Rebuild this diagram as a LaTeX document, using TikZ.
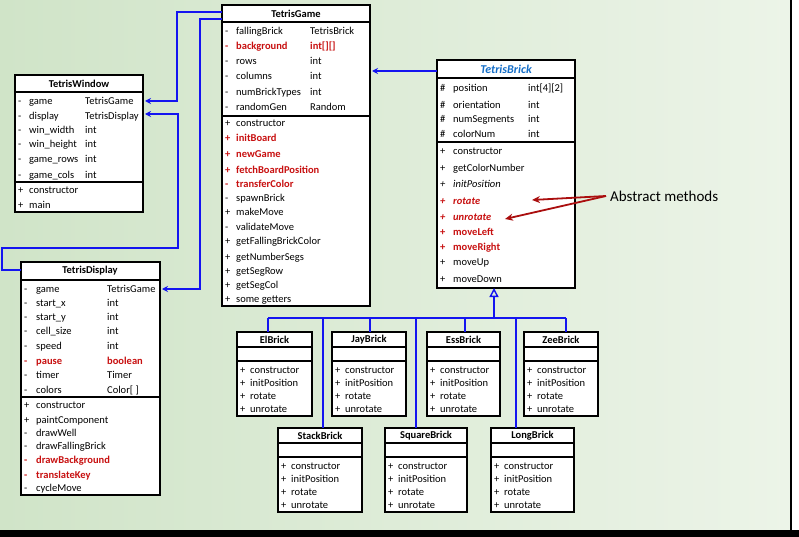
\documentclass[tikz,border=0pt]{standalone}
\usepackage{fontspec}
\setmainfont{Carlito}
\usetikzlibrary{arrows.meta}
\definecolor{bgg}{RGB}{208,228,200}
\definecolor{bgr}{RGB}{236,244,232}
\definecolor{umlred}{RGB}{200,16,16}
\definecolor{umlblue}{RGB}{20,110,200}
\definecolor{conn}{RGB}{20,20,240}
\tikzset{
  box/.style={draw=black,line width=2.8pt,fill=white},
  sep/.style={draw=black,line width=2pt},
  ttl/.style={font=\fontsize{10.5}{11}\selectfont\bfseries,inner sep=0pt},
  txt/.style={font=\fontsize{10.5}{11}\selectfont,anchor=base west,inner sep=0pt},
  red/.style={text=umlred,font=\fontsize{10.5}{11}\selectfont\bfseries},
  ab/.style={font=\fontsize{10.5}{11}\selectfont\itshape},
  abr/.style={text=umlred,font=\fontsize{10.5}{11}\selectfont\bfseries\itshape},
  link/.style={draw=conn,line width=1.6pt,-{Stealth[length=6pt,width=6pt]}},
  bus/.style={draw=conn,line width=1.6pt},
  inh/.style={draw=conn,line width=1.6pt,-{Triangle[open,length=9pt,width=9pt,line width=1.4pt]}},
  note/.style={draw=umlred!85!black,line width=1.8pt,-{Stealth[length=8pt,width=7pt]}}
}
% \mrow{name}{y}{sx}{nx}{tx}{sign}{text}{type}{style}
\newcommand{\mrow}[9]{%
  \node[txt,#9] (#1s) at (#3,#2+3.5) {#6};
  \node[txt,#9] (#1n) at (#4,#2+3.5) {#7};
  \node[txt,#9] (#1t) at (#5,#2+3.5) {#8};}
\newcommand{\smallbrick}[4]{% name, x1, x2, ytop
  \pgfmathsetmacro{\ya}{#4}\pgfmathsetmacro{\yb}{#4+15}\pgfmathsetmacro{\yc}{#4+29}\pgfmathsetmacro{\yd}{#4+84}
  \pgfmathsetmacro{\xm}{(#2+#3)/2}\pgfmathsetmacro{\xs}{#2+3}\pgfmathsetmacro{\xn}{#2+13}
  \path[box] (#2,\ya) rectangle (#3,\yd);
  \draw[sep] (#2,\yb) -- (#3,\yb);
  \draw[sep] (#2,\yc) -- (#3,\yc);
  \node[ttl] (#1) at (\xm,{#4+7.5}) {#1};
  \node[txt] (#1a) at (\xs,{#4+41.5}) {+};\node[txt] (#1an) at (\xn,{#4+41.5}) {constructor};
  \node[txt] (#1b) at (\xs,{#4+54.5}) {+};\node[txt] (#1bn) at (\xn,{#4+54.5}) {initPosition};
  \node[txt] (#1c) at (\xs,{#4+67.5}) {+};\node[txt] (#1cn) at (\xn,{#4+67.5}) {rotate};
  \node[txt] (#1d) at (\xs,{#4+80.5}) {+};\node[txt] (#1dn) at (\xn,{#4+80.5}) {unrotate};
  \coordinate (#1top) at (\xm,\ya);}
\begin{document}
\begin{tikzpicture}[x=1pt,y=-1pt]
\useasboundingbox (0,0) rectangle (799,537);
\fill[white] (0,0) rectangle (799,537);
\shade[left color=bgg,right color=bgr] (0,0) rectangle (791,530);
\fill[black] (0,530) rectangle (799,537);
\draw[black,line width=1.5pt] (791,0) -- (791,530);

% ---------- TetrisGame
\path[box] (222,5) rectangle (370,306);
\draw[sep] (222,22) -- (370,22);
\draw[sep] (222,116) -- (370,116);
\node[ttl] (TG) at (296,13.5) {TetrisGame};
\mrow{g1}{31}{225}{236}{310}{-}{fallingBrick}{TetrisBrick}{}
\mrow{g2}{46}{225}{236}{310}{-}{background}{int[][]}{red}
\mrow{g3}{61}{225}{236}{310}{-}{rows}{int}{}
\mrow{g4}{76}{225}{236}{310}{-}{columns}{int}{}
\mrow{g5}{92}{225}{236}{310}{-}{numBrickTypes}{int}{}
\mrow{g6}{107}{225}{236}{310}{-}{randomGen}{Random}{}
\mrow{m1}{123}{225}{236}{310}{+}{constructor}{}{}
\mrow{m2}{138}{225}{236}{310}{+}{initBoard}{}{red}
\mrow{m3}{154}{225}{236}{310}{+}{newGame}{}{red}
\mrow{m4}{170}{225}{236}{310}{+}{fetchBoardPosition}{}{red}
\mrow{m5}{184}{225}{236}{310}{-}{transferColor}{}{red}
\mrow{m6}{198}{225}{236}{310}{-}{spawnBrick}{}{}
\mrow{m7}{212}{225}{236}{310}{+}{makeMove}{}{}
\mrow{m8}{227}{225}{236}{310}{-}{validateMove}{}{}
\mrow{m9}{241}{225}{236}{310}{+}{getFallingBrickColor}{}{}
\mrow{m10}{257}{225}{236}{310}{+}{getNumberSegs}{}{}
\mrow{m11}{271}{225}{236}{310}{+}{getSegRow}{}{}
\mrow{m12}{285}{225}{236}{310}{+}{getSegCol}{}{}
\mrow{m13}{299}{225}{236}{310}{+}{some getters}{}{}

% ---------- TetrisWindow
\path[box] (15,75) rectangle (143,212);
\draw[sep] (15,92) -- (143,92);
\draw[sep] (15,182) -- (143,182);
\node[ttl] (TW) at (79,83.5) {TetrisWindow};
\mrow{w1}{101}{18}{29}{85}{-}{game}{TetrisGame}{}
\mrow{w2}{116}{18}{29}{85}{-}{display}{TetrisDisplay}{}
\mrow{w3}{130}{18}{29}{85}{-}{win\_width}{int}{}
\mrow{w4}{144}{18}{29}{85}{-}{win\_height}{int}{}
\mrow{w5}{159}{18}{29}{85}{-}{game\_rows}{int}{}
\mrow{w6}{175}{18}{29}{85}{-}{game\_cols}{int}{}
\mrow{w7}{190}{18}{29}{85}{+}{constructor}{}{}
\mrow{w8}{205}{18}{29}{85}{+}{main}{}{}

% ---------- TetrisDisplay
\path[box] (21,262) rectangle (160,495);
\draw[sep] (21,280) -- (160,280);
\draw[sep] (21,397) -- (160,397);
\node[ttl] (TD) at (90,271) {TetrisDisplay};
\mrow{d1}{289}{24}{36}{107}{-}{game}{TetrisGame}{}
\mrow{d2}{303}{24}{36}{107}{-}{start\_x}{int}{}
\mrow{d3}{317}{24}{36}{107}{-}{start\_y}{int}{}
\mrow{d4}{331}{24}{36}{107}{-}{cell\_size}{int}{}
\mrow{d5}{346}{24}{36}{107}{-}{speed}{int}{}
\mrow{d6}{361}{24}{36}{107}{-}{pause}{boolean}{red}
\mrow{d7}{375}{24}{36}{107}{-}{timer}{Timer}{}
\mrow{d8}{390}{24}{36}{107}{-}{colors}{Color[ ]}{}
\mrow{e1}{405}{24}{36}{107}{+}{constructor}{}{}
\mrow{e2}{420}{24}{36}{107}{+}{paintComponent}{}{}
\mrow{e3}{433}{24}{36}{107}{-}{drawWell}{}{}
\mrow{e4}{446}{24}{36}{107}{-}{drawFallingBrick}{}{}
\mrow{e5}{460}{24}{36}{107}{-}{drawBackground}{}{red}
\mrow{e6}{475}{24}{36}{107}{-}{translateKey}{}{red}
\mrow{e7}{488}{24}{36}{107}{-}{cycleMove}{}{}

% ---------- TetrisBrick
\path[box] (437,60) rectangle (575,288);
\draw[sep] (437,78) -- (575,78);
\draw[sep] (437,142) -- (575,142);
\node[ttl,text=umlblue,font=\fontsize{12}{12}\selectfont\bfseries\itshape] (TB) at (506,69) {TetrisBrick};
\mrow{b1}{88}{440}{453}{528}{\#}{position}{int[4][2]}{}
\mrow{b2}{105}{440}{453}{528}{\#}{orientation}{int}{}
\mrow{b3}{119}{440}{453}{528}{\#}{numSegments}{int}{}
\mrow{b4}{134}{440}{453}{528}{\#}{colorNum}{int}{}
\mrow{c1}{151}{440}{453}{528}{+}{constructor}{}{}
\mrow{c2}{168}{440}{453}{528}{+}{getColorNumber}{}{}
\mrow{c3}{184}{440}{453}{528}{+}{initPosition}{}{ab}
\mrow{c4}{201}{440}{453}{528}{+}{rotate}{}{abr}
\mrow{c5}{217}{440}{453}{528}{+}{unrotate}{}{abr}
\mrow{c6}{232}{440}{453}{528}{+}{moveLeft}{}{red}
\mrow{c7}{247}{440}{453}{528}{+}{moveRight}{}{red}
\mrow{c8}{262}{440}{453}{528}{+}{moveUp}{}{}
\mrow{c9}{279}{440}{453}{528}{+}{moveDown}{}{}
\coordinate (TBbot) at (494,288);

% ---------- Abstract methods note
\node[anchor=west,inner sep=0pt,font=\fontsize{15}{16}\selectfont] (AM) at (610,196) {Abstract methods};
\draw[note] (AM.west) ++(-4,0) coordinate (AMa) -- (532,200);
\draw[note] (AMa) -- (505,219);

% ---------- Small bricks
\smallbrick{ElBrick}{237}{312}{332}
\smallbrick{JayBrick}{332}{406}{332}
\smallbrick{EssBrick}{427}{500}{332}
\smallbrick{ZeeBrick}{524}{598}{332}
\smallbrick{StackBrick}{278}{362}{428}
\smallbrick{SquareBrick}{385}{467}{428}
\smallbrick{LongBrick}{491}{574}{428}

% ---------- Connectors
\coordinate (busL) at (268,318);
\coordinate (busR) at (566,318);
\coordinate (busM) at (494,318);
\draw[bus] (busL) -- (busR);
\draw[inh] (busM) -- (TBbot);
\draw[bus] (busL) -- (ElBricktop -| busL);
\draw[bus] (370,318) -- (JayBricktop -| 370,0);
\draw[bus] (465,318) -- (EssBricktop -| 465,0);
\draw[bus] (busR) -- (ZeeBricktop -| busR);
\draw[bus] (323,318) -- (StackBricktop -| 323,0);
\draw[bus] (416,318) -- (SquareBricktop -| 416,0);
\draw[bus] (516,318) -- (LongBricktop -| 516,0);

\draw[link] (437,71) -- (372,71);
\draw[link] (222,12) -- (177,12) -- (177,101) -- (145,101);
\draw[link] (21,270) -- (2,270) -- (2,248) -- (178,248) -- (178,114) -- (145,114);
\draw[link] (222,19) -- (200,19) -- (200,289) -- (162,289);
\end{tikzpicture}
\end{document}
